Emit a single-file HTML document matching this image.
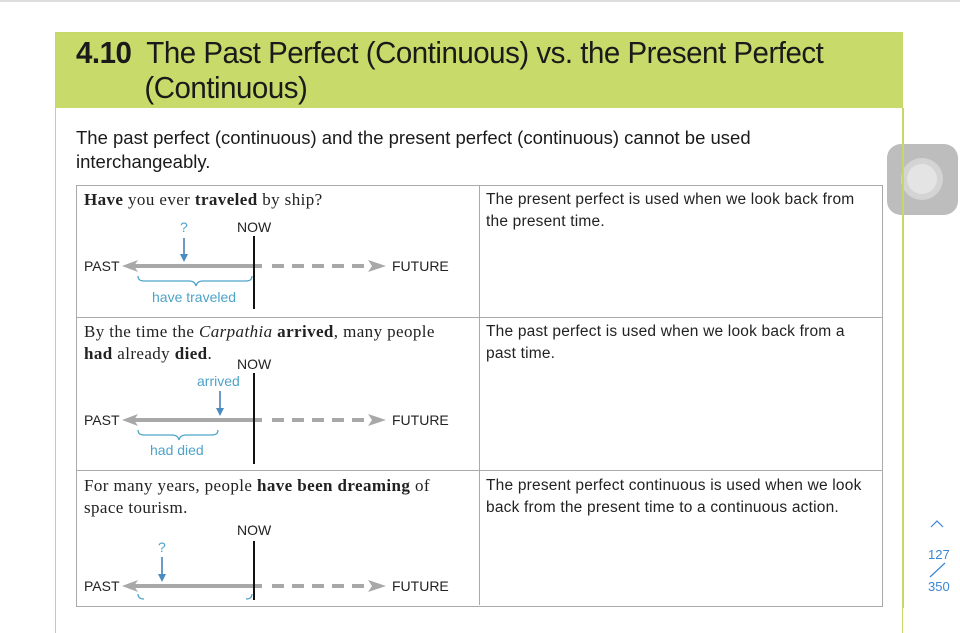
<!DOCTYPE html>
<html><head><meta charset="utf-8"><style>
body{margin:0;width:960px;height:600px;overflow:hidden;background:#fff;position:relative;font-family:"Liberation Sans",sans-serif}
.a{position:absolute;white-space:nowrap}
.s{font-family:"Liberation Serif",serif;font-size:17px;letter-spacing:0.4px;color:#222;line-height:22px}
.r{font-size:15.5px;letter-spacing:0.2px;color:#222;line-height:22px}
</style></head><body>
<div class="a" style="left:0;top:0;width:960px;height:2px;background:#ddd"></div>
<div class="a" style="left:55px;top:32px;width:846px;height:600px;border:1.5px solid #c5d96a;border-bottom:none"></div>
<div class="a" style="left:56px;top:33px;width:846px;height:75px;background:#c8db6a"></div>
<div class="a" style="left:76px;top:35px;font-size:31px;color:#1a1a1a;line-height:35px;letter-spacing:-0.5px;transform:scaleX(0.95);transform-origin:0 0"><b>4.10</b>&nbsp; The Past Perfect (Continuous) vs. the Present Perfect<br><span style="padding-left:72px">(Continuous)</span></div>
<div class="a" style="left:76px;top:126px;font-size:18.5px;line-height:24px;color:#1a1a1a">The past perfect (continuous) and the present perfect (continuous) cannot be used<br>interchangeably.</div>
<div class="a" style="left:76px;top:185px;width:805px;height:420px;border:1px solid #aaa"></div>
<div class="a" style="left:479px;top:185px;width:1px;height:420px;background:#aaa"></div>
<div class="a" style="left:76px;top:317px;width:806px;height:1px;background:#aaa"></div>
<div class="a" style="left:76px;top:470px;width:806px;height:1px;background:#aaa"></div>
<div class="a s" style="left:84px;top:189px"><b>Have</b> you ever <b>traveled</b> by ship?</div>
<div class="a s" style="left:84px;top:321px">By the time the <i>Carpathia</i> <b>arrived</b>, many people<br><b>had</b> already <b>died</b>.</div>
<div class="a s" style="left:84px;top:475px">For many years, people <b>have been dreaming</b> of<br>space tourism.</div>
<div class="a r" style="left:486px;top:189px">The present perfect is used when we look back from<br>the present time.</div>
<div class="a r" style="left:486px;top:321px">The past perfect is used when we look back from a<br>past time.</div>
<div class="a r" style="left:486px;top:475px">The present perfect continuous is used when we look<br>back from the present time to a continuous action.</div>
<svg class="a" style="left:0;top:0" width="960" height="600" font-family="Liberation Sans" font-size="14">
<defs><g id="tl">
<text x="84" y="5" fill="#222">PAST</text>
<line x1="132" y1="0" x2="262" y2="0" stroke="#a8a8a8" stroke-width="4"/>
<polygon points="122,0 138,-6 134,0 138,6" fill="#a8a8a8"/>
<line x1="272" y1="0" x2="372" y2="0" stroke="#a8a8a8" stroke-width="4" stroke-dasharray="12,8"/>
<polygon points="386,0 368,-6 372,0 368,6" fill="#a8a8a8"/>
<text x="392" y="5" fill="#222">FUTURE</text>
</g></defs>
<use href="#tl" y="266"/><use href="#tl" y="420"/><use href="#tl" y="586"/>
<g fill="#222"><text x="237" y="232">NOW</text><text x="237" y="369">NOW</text><text x="237" y="535">NOW</text></g>
<g stroke="#111" stroke-width="2"><line x1="254" y1="236" x2="254" y2="309"/><line x1="254" y1="373" x2="254" y2="464"/><line x1="254" y1="541" x2="254" y2="600"/></g>
<g fill="#4a8cc0" stroke="#3a78b0" stroke-width="1.5">
<line x1="184" y1="238" x2="184" y2="256"/><polygon points="180,254 188,254 184,262" stroke="none"/>
<line x1="220" y1="391" x2="220" y2="410"/><polygon points="216,408 224,408 220,416" stroke="none"/>
<line x1="162" y1="557" x2="162" y2="576"/><polygon points="158,574 166,574 162,582" stroke="none"/>
</g>
<g fill="#4ea3c9" font-size="14"><text x="180" y="232">?</text><text x="197" y="386">arrived</text><text x="158" y="552">?</text>
<text x="152" y="302">have traveled</text><text x="150" y="455">had died</text></g>
<g fill="none" stroke="#4ea3c9" stroke-width="1.2">
<path d="M138,276 q0,5 6,5 H189 q6,0 7,5 q1,-5 7,-5 H246 q6,0 6,-5"/>
<path d="M138,430 q0,5 6,5 H172 q6,0 7,5 q1,-5 7,-5 H212 q6,0 6,-5"/>
<path d="M138,594 q0,5 6,5 M246,599 q6,0 6,-5"/>
</g>
<g fill="#3a86d8" font-size="13"><text x="928" y="559">127</text><text x="928" y="591">350</text></g>
<path d="M931,527 l6,-6 l6,6" fill="none" stroke="#3a86d8" stroke-width="1.2"/>
<line x1="930" y1="577" x2="945" y2="563" stroke="#3a86d8" stroke-width="1.2"/>
</svg>
<div class="a" style="left:887px;top:144px;width:71px;height:71px;border-radius:14px;background:#bdbdbd"></div>
<div class="a" style="left:901px;top:158px;width:42px;height:42px;border-radius:50%;background:#d4d4d4"></div>
<div class="a" style="left:907px;top:164px;width:30px;height:30px;border-radius:50%;background:#e4e4e4"></div>
<div class="a" style="left:902px;top:108px;width:1.5px;height:500px;background:#c5d96a"></div>
</body></html>
